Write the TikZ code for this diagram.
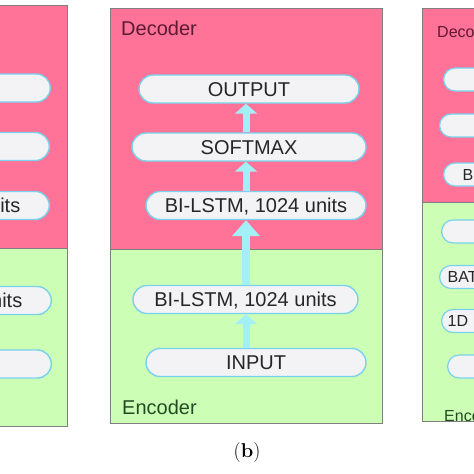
\documentclass[tikz,border=0pt]{standalone}
\usepackage{fontspec}
\setsansfont{Liberation Sans}
\usepackage{tikz}
\usetikzlibrary{arrows.meta}

\definecolor{decfill}{HTML}{FF7398}
\definecolor{encfill}{HTML}{CCFFB5}
\definecolor{layerfill}{HTML}{F3F3F6}
\definecolor{layerline}{HTML}{78D2EE}
\definecolor{flowcyan}{HTML}{A2F0F6}
\definecolor{panelline}{HTML}{7F7F7F}
\definecolor{declabel}{HTML}{5C1A33}
\definecolor{enclabel}{HTML}{234B23}

\tikzset{
  layer/.style={draw=layerline, line width=1.4pt, fill=layerfill, rounded corners=14pt,
    minimum height=28pt, inner sep=0pt, text=black!85, text height=14.5pt, text depth=0pt,
    font=\sffamily\fontsize{20}{24}\selectfont},
  ltail/.style={anchor=east, text width=162pt, align=right, inner xsep=29pt},
  rlayer/.style={layer, anchor=west, line width=1.2pt, rounded corners=11.5pt,
    minimum height=23pt, text height=11.5pt, font=\sffamily\fontsize{16}{19}\selectfont},
  rtext/.style={text width=160pt, align=left, inner xsep=#1},
  panel/.style={draw=panelline, line width=1pt},
  declbl/.style={anchor=west, inner sep=0pt, text=declabel, font=\sffamily\fontsize{20}{24}\selectfont},
  enclbl/.style={anchor=west, inner sep=0pt, text=enclabel, font=\sffamily\fontsize{20}{24}\selectfont},
  flow/.style={draw=flowcyan, line width=7pt, -{Triangle[width=22pt,length=10pt]}},
  bigflow/.style={draw=flowcyan, line width=8pt, -{Triangle[width=27pt,length=16pt]}}
}

\begin{document}
\begin{tikzpicture}[x=1pt, y=-1pt]
  \useasboundingbox (0,0) rectangle (474,474);

  % panels
  \fill[decfill] (-205,5) rectangle (67,248);
  \fill[encfill] (-205,248) rectangle (67,426);
  \draw[panel] (-205,5) rectangle (67,426) (-205,248) -- (67,248);

  \fill[decfill] (110,8) rectangle (382,249);
  \fill[encfill] (110,249) rectangle (382,423);
  \draw[panel] (110,8) rectangle (382,423) (110,249) -- (382,249);

  \fill[decfill] (422,8) rectangle (694,202);
  \fill[encfill] (422,202) rectangle (694,421);
  \draw[panel] (422,8) rectangle (694,421) (422,202) -- (694,202);

  % left panel
  \node[layer, ltail] (l1) at (51,88) {};
  \node[layer, ltail] (l2) at (50,146.5) {};
  \node[layer, ltail] (l3) at (50,205.5) {units};
  \node[layer, ltail] (l4) at (52,300.5) {units};
  \node[layer, ltail] (l5) at (52,364) {};

  % middle panel
  \node[declbl] (mdec) at (121,28) {Decoder};
  \node[enclbl] (menc) at (122,407) {Encoder};
  \node[layer, minimum width=220pt] (out) at (249,89) {OUTPUT};
  \node[layer, minimum width=234pt] (soft) at (249,147) {SOFTMAX};
  \node[layer, minimum width=220pt] (dlstm) at (256,205.5) {BI-LSTM, 1024 units};
  \node[layer, minimum width=225pt] (elstm) at (245.5,299.5) {BI-LSTM, 1024 units};
  \node[layer, minimum width=220pt] (inp) at (256,362.5) {INPUT};

  \coordinate (ax) at (246,0);
  \draw[flow] (inp.north -| ax) -- (elstm.south -| ax);
  \draw[bigflow] (elstm.north -| ax) -- (dlstm.south -| ax);
  \draw[flow] (dlstm.north -| ax) -- (soft.south -| ax);
  \draw[flow] (soft.north -| ax) -- (out.south -| ax);

  % right panel
  \node[declbl, font=\sffamily\fontsize{16}{19}\selectfont] (rdec) at (437,32) {Decoder};
  \node[enclbl, font=\sffamily\fontsize{16}{19}\selectfont] (renc) at (444,416) {Encoder};
  \node[rlayer, minimum width=200pt] (r1) at (443,79.5) {};
  \node[rlayer, minimum width=200pt] (r2) at (439,125.5) {};
  \node[rlayer, rtext=19pt] (r3) at (443,174.5) {BI-LSTM};
  \node[rlayer, minimum width=200pt] (r4) at (441,231.5) {};
  \node[rlayer, rtext=8pt] (r5) at (439,277) {BATCH};
  \node[rlayer, rtext=6pt] (r6) at (441,321) {1D};
  \node[rlayer, minimum width=200pt] (r7) at (447,366.5) {};

  % caption
  \node[font=\fontsize{20}{24}\selectfont] (cap) at (247,453) {(\textbf{b})};
\end{tikzpicture}
\end{document}
